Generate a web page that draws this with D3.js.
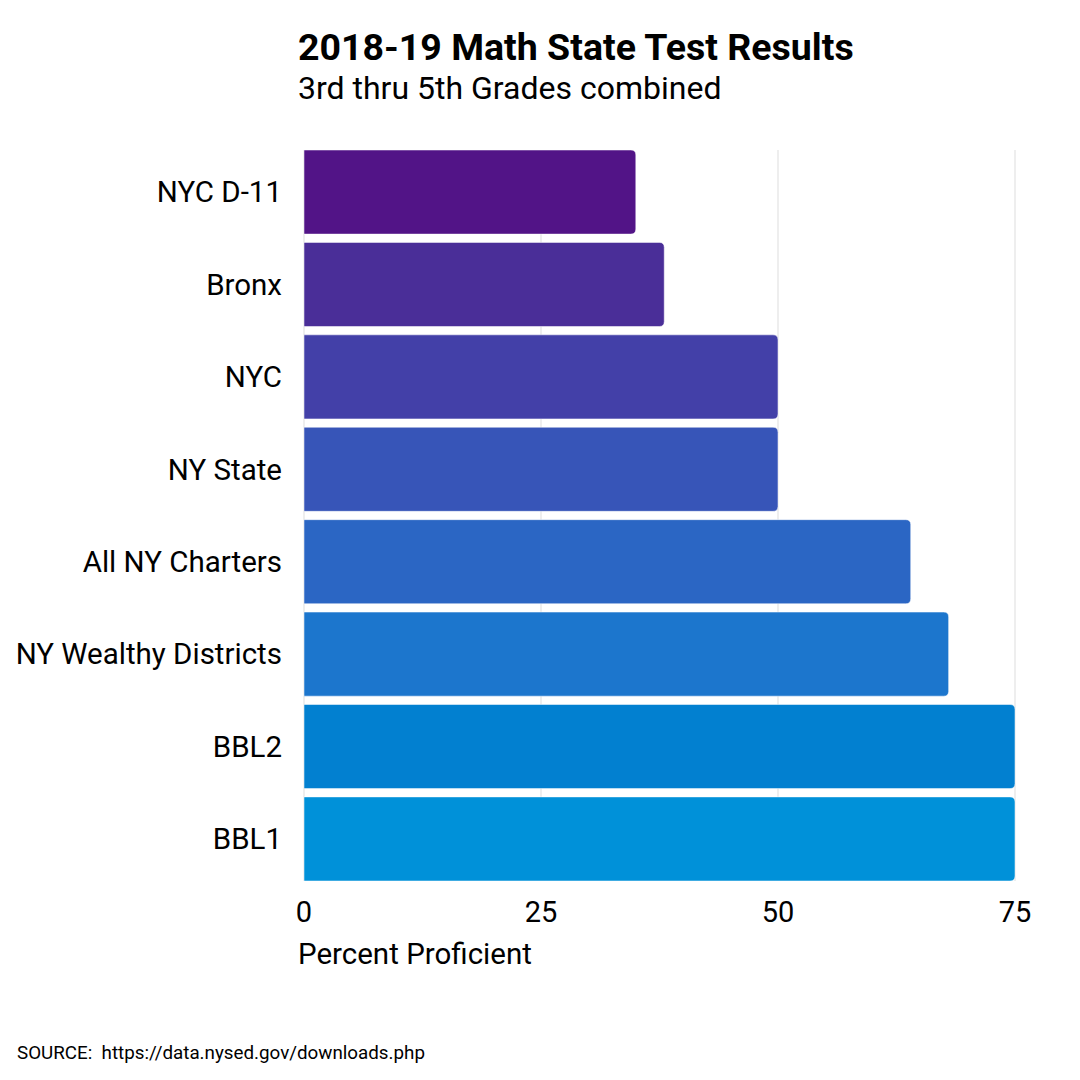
<!DOCTYPE html>
<html>
<head>
<meta charset="utf-8">
<script src="https://cdn.jsdelivr.net/npm/d3@7"></script>
<style>
	body { margin: 0; background: #fff; }
	text { font-family: Roboto, "Noto Sans", sans-serif; }
</style>
</head>
<body>
<div id="chart"><svg id="svg" width="1080" height="1080"></svg></div>
<script>
"use strict";

// data
const categories = [
	"NYC D-11",
	"Bronx",
	"NYC",
	"NY State",
	"All NY Charters",
	"NY Wealthy Districts",
	"BBL2",
	"BBL1"
];
const values = [35, 38, 50, 50, 64, 68, 75, 75];
const barColors = [
	"#521487",
	"#4a2e98",
	"#4340a8",
	"#3755b8",
	"#2b66c4",
	"#1c76cd",
	"#0280d0",
	"#0091d9"
];
const xTicks = [0, 25, 50, 75];

const svg = d3.select("#svg");

const x = d3.scaleLinear().domain([0, 75]).range([304, 1015]);
const y = d3
	.scaleBand()
	.domain(categories)
	.range([150, 881])
	.paddingInner(0.09)
	.paddingOuter(0);

// gridlines
svg.append("g")
	.selectAll("line")
	.data(xTicks)
	.enter()
	.append("line")
	.attr("x1", (d) => x(d))
	.attr("x2", (d) => x(d))
	.attr("y1", 150)
	.attr("y2", 881)
	.style("stroke", "#dddddd")
	.style("stroke-width", "1px");

// bars: square on the left, rounded on the right
const r = 5;
const barPath = function (d, i) {
	const x0 = x(0);
	const x1 = x(values[i]);
	const y0 = y(d);
	const y1 = y0 + y.bandwidth();
	return `M${x0},${y0}H${x1 - r}Q${x1},${y0} ${x1},${y0 + r}V${y1 - r}Q${x1},${y1} ${x1 - r},${y1}H${x0}Z`;
};

svg.append("g")
	.selectAll("path")
	.data(categories)
	.enter()
	.append("path")
	.attr("d", barPath)
	.style("fill", (d, i) => barColors[i])
	.style("stroke", "#ffffff")
	.style("stroke-opacity", 0.5)
	.style("stroke-width", "1px");

// category labels
svg.append("g")
	.selectAll("text")
	.data(categories)
	.enter()
	.append("text")
	.text((d) => d)
	.attr("x", 282)
	.attr("y", (d) => y(d) + y.bandwidth() / 2)
	.attr("dy", "0.35em")
	.attr("text-anchor", "end")
	.attr("font-size", "29.5px")
	.style("fill", "#000");

// x tick labels
svg.append("g")
	.selectAll("text")
	.data(xTicks)
	.enter()
	.append("text")
	.text((d) => d)
	.attr("x", (d) => x(d))
	.attr("y", 922)
	.attr("text-anchor", "middle")
	.attr("font-size", "29px")
	.style("fill", "#000");

svg.append("text")
	.text("Percent Proficient")
	.attr("x", 298)
	.attr("y", 964)
	.attr("font-size", "29.5px")
	.style("fill", "#000");

// titles
svg.append("text")
	.text("2018-19 Math State Test Results")
	.attr("x", 298)
	.attr("y", 60)
	.attr("font-weight", "bold")
	.attr("font-size", "37.5px")
	.style("fill", "#000");
svg.append("text")
	.text("3rd thru 5th Grades combined")
	.attr("x", 298)
	.attr("y", 99)
	.attr("font-size", "32px")
	.style("fill", "#000");

svg.append("text")
	.text("SOURCE:  https://data.nysed.gov/downloads.php")
	.attr("x", 17)
	.attr("y", 1059)
	.attr("font-size", "18.8px")
	.attr("xml:space", "preserve")
	.style("white-space", "pre")
	.style("fill", "#000");
</script>
</body>
</html>
